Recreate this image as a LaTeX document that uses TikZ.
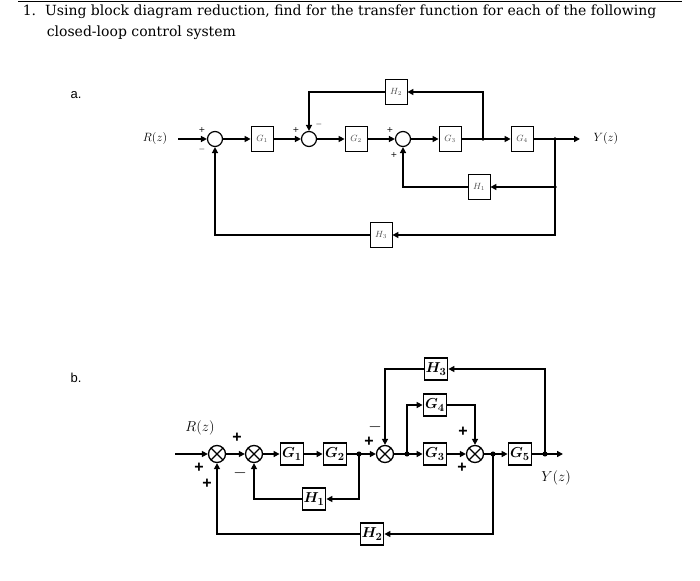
\documentclass[tikz,border=0pt]{standalone}
\usepackage{fontspec}
\setmainfont{DejaVu Serif}
\newfontfamily\sansf{Liberation Sans}
\usetikzlibrary{arrows.meta}
\begin{document}
\begin{tikzpicture}[x=1pt,y=-1pt,line width=1.6pt,>={Triangle[length=6pt,width=6pt]},
 ba/.style={draw,line width=0.8pt,minimum width=22pt,minimum height=25pt,inner sep=0pt,font=\fontsize{9}{10}\selectfont,text=black!70},
 sa/.style={draw,circle,line width=1.2pt,minimum size=15pt,inner sep=0pt},
 bb/.style={draw,line width=1.8pt,minimum width=23pt,minimum height=22pt,inner sep=0pt,font=\fontsize{15}{16}\selectfont\boldmath},
 sb/.style={draw,circle,line width=1.3pt,minimum size=17pt,inner sep=0pt,path picture={\draw[line width=1.3pt](path picture bounding box.north west)--(path picture bounding box.south east)(path picture bounding box.north east)--(path picture bounding box.south west);}},
 dot/.style={circle,fill,inner sep=1.8pt},
 sg/.style={font=\fontsize{8}{9}\selectfont},
 sgb/.style={font=\sansf\bfseries\fontsize{16}{17}\selectfont}]
\useasboundingbox (0,0) rectangle (700,580);
\draw[line width=0.8pt] (18,1)--(682,1);
\node[anchor=west,font=\fontsize{14}{17}\selectfont,inner sep=0pt] (t1) at (22,12) {1.\ \ Using block diagram reduction, find for the transfer function for each of the following};
\node[anchor=west,font=\fontsize{14}{17}\selectfont,inner sep=0pt] (t2) at (46,33) {closed-loop control system};
\node[font=\sansf\fontsize{13}{14}\selectfont] (la) at (76,95) {a.};
\node[font=\sansf\fontsize{13}{14}\selectfont] (lb) at (76,378) {b.};
% ---- part a
\node[font=\fontsize{13}{14}\selectfont] (R) at (155,139) {$R(z)$};
\node[sa] (s1) at (215,139) {};
\node[ba] (G1) at (262,139) {$G_1$};
\node[sa] (s2) at (309,139) {};
\node[ba] (G2) at (356,139) {$G_2$};
\node[sa] (s3) at (403,139) {};
\node[ba] (G3) at (450,139) {$G_3$};
\coordinate (p1) at (483,139);
\node[ba] (G4) at (522,139) {$G_4$};
\coordinate (p2) at (555,139);
\coordinate (p3) at (555,187);
\coordinate (ya) at (580,139);
\node[font=\fontsize{13}{14}\selectfont] (Y) at (606,139) {$Y(z)$};
\node[ba] (H2) at (396,92) {$H_2$};
\node[ba] (H1) at (479,187) {$H_1$};
\node[ba] (H3) at (381,235) {$H_3$};
\draw[->] (178,139)--(s1);
\draw[->] (s1)--(G1); \draw[->] (G1)--(s2); \draw[->] (s2)--(G2); \draw[->] (G2)--(s3);
\draw[->] (s3)--(G3); \draw (G3)--(p1); \draw[->] (p1)--(G4); \draw (G4)--(p2); \draw[->] (p2)--(ya);
\draw[->] (p1)|-(H2); \draw[->] (H2)-|(s2);
\draw[->] (p2)|-(H1); \draw[->] (H1)-|(s3);
\draw[->] (p3)|-(H3); \draw[->] (H3)-|(s1);
\node[dot,inner sep=1.4pt] at (p1) {}; \node[dot,inner sep=1.4pt] at (p2) {}; \node[dot,inner sep=1.4pt] at (p3) {};
\node[sg] at (202,130) {+}; \node[sg] at (202,150) {$-$};
\node[sg] at (296,130) {+}; \node[sg] at (319,125) {$-$};
\node[sg] at (390,130) {+}; \node[sg] at (394,155) {+};
% ---- part b
\node[font=\fontsize{14}{15}\selectfont] (Rb) at (200,428) {$R(z)$};
\node[font=\fontsize{14}{15}\selectfont] (Yb) at (556,478) {$Y(z)$};
\node[sb] (b1) at (217,454) {};
\node[sb] (b2) at (254,454) {};
\node[bb] (K1) at (292,454) {$G_1$};
\node[bb] (K2) at (335,454) {$G_2$};
\coordinate (q1) at (359,454);
\node[sb] (b3) at (385,454) {};
\coordinate (q2) at (407,454);
\node[bb] (K3) at (435,454) {$G_3$};
\node[bb] (K4) at (435,405) {$G_4$};
\node[sb] (b4) at (475,454) {};
\coordinate (q3) at (493,454);
\node[bb] (K5) at (520,454) {$G_5$};
\coordinate (q4) at (545,454);
\coordinate (yb) at (563,454);
\node[bb] (M3) at (436,369) {$H_3$};
\node[bb] (M1) at (314,499) {$H_1$};
\node[bb] (M2) at (372,534) {$H_2$};
\draw[->] (175,454)--(b1);
\draw[->] (b1)--(b2); \draw[->] (b2)--(K1); \draw[->] (K1)--(K2); \draw (K2)--(q1); \draw[->] (q1)--(b3);
\draw (b3)--(q2); \draw[->] (q2)--(K3); \draw[->] (K3)--(b4); \draw (b4)--(q3); \draw[->] (q3)--(K5);
\draw (K5)--(q4); \draw[->] (q4)--(yb);
\draw[->] (q2)|-(K4); \draw[->] (K4)-|(b4);
\draw[->] (q4)|-(M3); \draw[->] (M3)-|(b3);
\draw[->] (q1)|-(M1); \draw[->] (M1)-|(b2);
\draw[->] (q3)|-(M2); \draw[->] (M2)-|(b1);
\foreach \q in {q1,q2,q3,q4} \node[dot] at (\q) {};
\node[sgb] at (199,468) {+}; \node[sgb] at (207,484) {+};
\node[sgb] at (237,438) {+}; \node[sgb] at (240,473) {$-$};
\node[sgb] at (375,427) {$-$}; \node[sgb] at (369,442) {+};
\node[sgb] at (463,432) {+}; \node[sgb] at (462,468) {+};
\end{tikzpicture}
\end{document}
